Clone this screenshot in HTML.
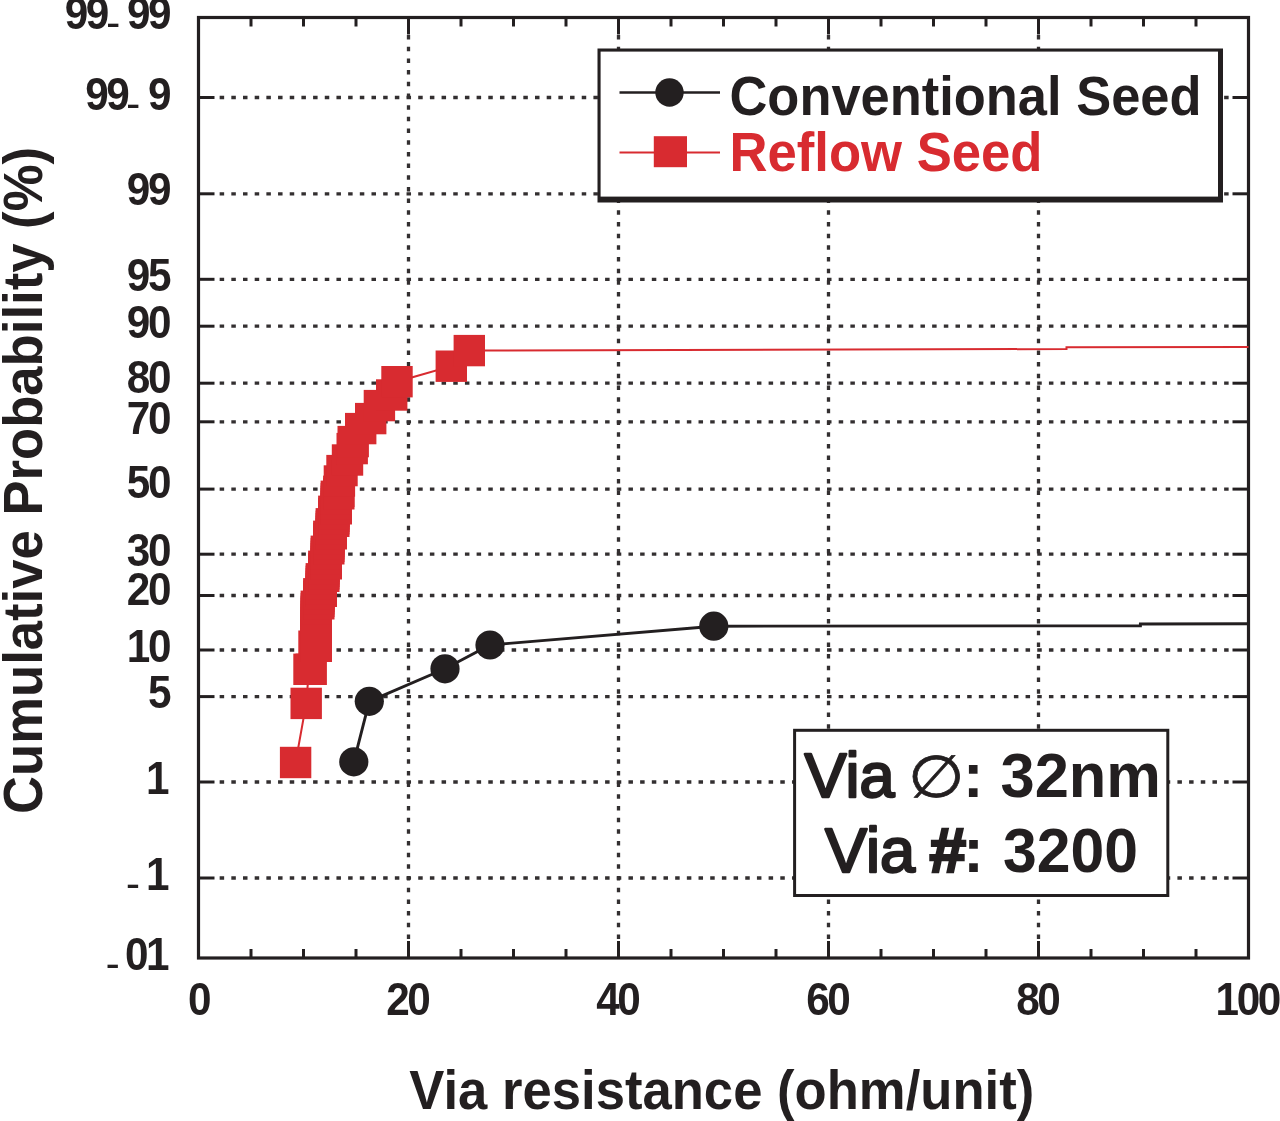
<!DOCTYPE html>
<html lang="en"><head><meta charset="utf-8"><title>Via resistance cumulative probability</title>
<style>html,body{margin:0;padding:0;background:#fff}svg{display:block;filter:blur(0.6px)}text{font-family:"Liberation Sans",Arial,Helvetica,sans-serif;font-weight:bold;fill:#231f20}.tk{font-size:45.5px}.big{font-size:52.4px}</style></head><body>
<svg width="1280" height="1121" viewBox="0 0 1280 1121">
<rect width="1280" height="1121" fill="#fff"/>
<g stroke="#332f30" stroke-width="3.3" fill="none" stroke-dasharray="4.5 7.18">
<line x1="219.65" y1="97.5" x2="1230.5" y2="97.5"/>
<line x1="219.65" y1="193.8" x2="1230.5" y2="193.8"/>
<line x1="219.65" y1="279.3" x2="1230.5" y2="279.3"/>
<line x1="219.65" y1="326.2" x2="1230.5" y2="326.2"/>
<line x1="219.65" y1="383.2" x2="1230.5" y2="383.2"/>
<line x1="219.65" y1="421.8" x2="1230.5" y2="421.8"/>
<line x1="219.65" y1="489.1" x2="1230.5" y2="489.1"/>
<line x1="219.65" y1="554.2" x2="1230.5" y2="554.2"/>
<line x1="219.65" y1="595.5" x2="1230.5" y2="595.5"/>
<line x1="219.65" y1="650.0" x2="1230.5" y2="650.0"/>
<line x1="219.65" y1="696.6" x2="1230.5" y2="696.6"/>
<line x1="219.65" y1="782.0" x2="1230.5" y2="782.0"/>
<line x1="219.65" y1="878.0" x2="1230.5" y2="878.0"/>
<line x1="408.5" y1="35.08" x2="408.5" y2="941.0"/>
<line x1="618.5" y1="35.08" x2="618.5" y2="941.0"/>
<line x1="828.5" y1="35.08" x2="828.5" y2="941.0"/>
<line x1="1038.5" y1="35.08" x2="1038.5" y2="941.0"/>
</g>
<g stroke="#231f20" fill="none">
<rect x="198.5" y="17.5" width="1050.0" height="940.5" stroke-width="3.2"/>
<g stroke-width="3">
<line x1="198.5" y1="97.5" x2="214.5" y2="97.5"/>
<line x1="1232.5" y1="97.5" x2="1248.5" y2="97.5"/>
<line x1="198.5" y1="193.8" x2="214.5" y2="193.8"/>
<line x1="1232.5" y1="193.8" x2="1248.5" y2="193.8"/>
<line x1="198.5" y1="279.3" x2="214.5" y2="279.3"/>
<line x1="1232.5" y1="279.3" x2="1248.5" y2="279.3"/>
<line x1="198.5" y1="326.2" x2="214.5" y2="326.2"/>
<line x1="1232.5" y1="326.2" x2="1248.5" y2="326.2"/>
<line x1="198.5" y1="383.2" x2="214.5" y2="383.2"/>
<line x1="1232.5" y1="383.2" x2="1248.5" y2="383.2"/>
<line x1="198.5" y1="421.8" x2="214.5" y2="421.8"/>
<line x1="1232.5" y1="421.8" x2="1248.5" y2="421.8"/>
<line x1="198.5" y1="489.1" x2="214.5" y2="489.1"/>
<line x1="1232.5" y1="489.1" x2="1248.5" y2="489.1"/>
<line x1="198.5" y1="554.2" x2="214.5" y2="554.2"/>
<line x1="1232.5" y1="554.2" x2="1248.5" y2="554.2"/>
<line x1="198.5" y1="595.5" x2="214.5" y2="595.5"/>
<line x1="1232.5" y1="595.5" x2="1248.5" y2="595.5"/>
<line x1="198.5" y1="650.0" x2="214.5" y2="650.0"/>
<line x1="1232.5" y1="650.0" x2="1248.5" y2="650.0"/>
<line x1="198.5" y1="696.6" x2="214.5" y2="696.6"/>
<line x1="1232.5" y1="696.6" x2="1248.5" y2="696.6"/>
<line x1="198.5" y1="782.0" x2="214.5" y2="782.0"/>
<line x1="1232.5" y1="782.0" x2="1248.5" y2="782.0"/>
<line x1="198.5" y1="878.0" x2="214.5" y2="878.0"/>
<line x1="1232.5" y1="878.0" x2="1248.5" y2="878.0"/>
<line x1="251.0" y1="958.0" x2="251.0" y2="949.0"/>
<line x1="251.0" y1="17.5" x2="251.0" y2="26.5"/>
<line x1="303.5" y1="958.0" x2="303.5" y2="949.0"/>
<line x1="303.5" y1="17.5" x2="303.5" y2="26.5"/>
<line x1="356.0" y1="958.0" x2="356.0" y2="949.0"/>
<line x1="356.0" y1="17.5" x2="356.0" y2="26.5"/>
<line x1="408.5" y1="958.0" x2="408.5" y2="941.0"/>
<line x1="408.5" y1="17.5" x2="408.5" y2="34.5"/>
<line x1="461.0" y1="958.0" x2="461.0" y2="949.0"/>
<line x1="461.0" y1="17.5" x2="461.0" y2="26.5"/>
<line x1="513.5" y1="958.0" x2="513.5" y2="949.0"/>
<line x1="513.5" y1="17.5" x2="513.5" y2="26.5"/>
<line x1="566.0" y1="958.0" x2="566.0" y2="949.0"/>
<line x1="566.0" y1="17.5" x2="566.0" y2="26.5"/>
<line x1="618.5" y1="958.0" x2="618.5" y2="941.0"/>
<line x1="618.5" y1="17.5" x2="618.5" y2="34.5"/>
<line x1="671.0" y1="958.0" x2="671.0" y2="949.0"/>
<line x1="671.0" y1="17.5" x2="671.0" y2="26.5"/>
<line x1="723.5" y1="958.0" x2="723.5" y2="949.0"/>
<line x1="723.5" y1="17.5" x2="723.5" y2="26.5"/>
<line x1="776.0" y1="958.0" x2="776.0" y2="949.0"/>
<line x1="776.0" y1="17.5" x2="776.0" y2="26.5"/>
<line x1="828.5" y1="958.0" x2="828.5" y2="941.0"/>
<line x1="828.5" y1="17.5" x2="828.5" y2="34.5"/>
<line x1="881.0" y1="958.0" x2="881.0" y2="949.0"/>
<line x1="881.0" y1="17.5" x2="881.0" y2="26.5"/>
<line x1="933.5" y1="958.0" x2="933.5" y2="949.0"/>
<line x1="933.5" y1="17.5" x2="933.5" y2="26.5"/>
<line x1="986.0" y1="958.0" x2="986.0" y2="949.0"/>
<line x1="986.0" y1="17.5" x2="986.0" y2="26.5"/>
<line x1="1038.5" y1="958.0" x2="1038.5" y2="941.0"/>
<line x1="1038.5" y1="17.5" x2="1038.5" y2="34.5"/>
<line x1="1091.0" y1="958.0" x2="1091.0" y2="949.0"/>
<line x1="1091.0" y1="17.5" x2="1091.0" y2="26.5"/>
<line x1="1143.5" y1="958.0" x2="1143.5" y2="949.0"/>
<line x1="1143.5" y1="17.5" x2="1143.5" y2="26.5"/>
<line x1="1196.0" y1="958.0" x2="1196.0" y2="949.0"/>
<line x1="1196.0" y1="17.5" x2="1196.0" y2="26.5"/>
</g></g>
<polyline fill="none" stroke="#d82b30" stroke-width="2.0" points="295.6,762.5 306.2,703.4 309.0,669.3 311.2,669.3 314.0,646.2 316.2,646.2 316.3,646.3 316.3,643.3 316.3,640.3 316.3,637.3 316.3,634.3 316.3,631.3 316.3,628.3 316.3,625.3 316.3,622.3 316.3,619.3 316.3,616.3 316.3,613.3 316.3,611.3 316.3,608.8 316.3,606.3 318.8,603.8 318.8,601.3 318.8,598.8 318.8,596.3 318.8,593.8 321.3,591.3 321.3,588.8 321.3,586.3 321.3,583.8 321.3,581.3 321.3,578.8 323.8,576.3 323.8,573.8 323.8,571.3 323.8,568.8 323.8,566.3 326.3,563.8 326.3,561.3 326.3,558.8 326.3,556.3 326.3,553.8 326.3,551.3 328.8,548.8 328.8,546.3 328.8,543.8 328.8,541.3 328.8,538.8 328.8,536.3 331.3,533.8 331.3,531.3 331.3,528.8 331.3,526.3 331.3,523.8 333.8,521.3 333.8,518.8 333.8,516.3 333.8,513.8 333.8,511.3 336.3,508.8 336.3,506.3 336.3,503.8 336.3,501.3 336.3,498.8 336.3,496.3 338.8,493.8 338.8,491.3 339.4,481.0 342.0,470.6 347.5,460.0 352.2,448.6 353.2,441.6 360.7,428.6 370.7,418.6 379.4,405.6 391.7,395.0 397.0,381.7 451.3,366.2 469.3,350.6 1066.5,349.0 1066.5,347.2 1248.5,347.0"/>
<g fill="#d82b30">
<rect x="279.9" y="746.8" width="31.4" height="31.4"/>
<rect x="290.5" y="687.7" width="31.4" height="31.4"/>
<rect x="293.3" y="653.6" width="31.4" height="31.4"/>
<rect x="295.5" y="653.6" width="31.4" height="31.4"/>
<rect x="298.3" y="630.5" width="31.4" height="31.4"/>
<rect x="300.5" y="630.5" width="31.4" height="31.4"/>
<rect x="300.6" y="630.6" width="31.4" height="31.4"/>
<rect x="300.6" y="627.6" width="31.4" height="31.4"/>
<rect x="300.6" y="624.6" width="31.4" height="31.4"/>
<rect x="300.6" y="621.6" width="31.4" height="31.4"/>
<rect x="300.6" y="618.6" width="31.4" height="31.4"/>
<rect x="300.6" y="615.6" width="31.4" height="31.4"/>
<rect x="300.6" y="612.6" width="31.4" height="31.4"/>
<rect x="300.6" y="609.6" width="31.4" height="31.4"/>
<rect x="300.6" y="606.6" width="31.4" height="31.4"/>
<rect x="300.6" y="603.6" width="31.4" height="31.4"/>
<rect x="300.6" y="600.6" width="31.4" height="31.4"/>
<rect x="300.6" y="597.6" width="31.4" height="31.4"/>
<rect x="300.6" y="595.6" width="31.4" height="31.4"/>
<rect x="300.6" y="593.1" width="31.4" height="31.4"/>
<rect x="300.6" y="590.6" width="31.4" height="31.4"/>
<rect x="303.1" y="588.1" width="31.4" height="31.4"/>
<rect x="303.1" y="585.6" width="31.4" height="31.4"/>
<rect x="303.1" y="583.1" width="31.4" height="31.4"/>
<rect x="303.1" y="580.6" width="31.4" height="31.4"/>
<rect x="303.1" y="578.1" width="31.4" height="31.4"/>
<rect x="305.6" y="575.6" width="31.4" height="31.4"/>
<rect x="305.6" y="573.1" width="31.4" height="31.4"/>
<rect x="305.6" y="570.6" width="31.4" height="31.4"/>
<rect x="305.6" y="568.1" width="31.4" height="31.4"/>
<rect x="305.6" y="565.6" width="31.4" height="31.4"/>
<rect x="305.6" y="563.1" width="31.4" height="31.4"/>
<rect x="308.1" y="560.6" width="31.4" height="31.4"/>
<rect x="308.1" y="558.1" width="31.4" height="31.4"/>
<rect x="308.1" y="555.6" width="31.4" height="31.4"/>
<rect x="308.1" y="553.1" width="31.4" height="31.4"/>
<rect x="308.1" y="550.6" width="31.4" height="31.4"/>
<rect x="310.6" y="548.1" width="31.4" height="31.4"/>
<rect x="310.6" y="545.6" width="31.4" height="31.4"/>
<rect x="310.6" y="543.1" width="31.4" height="31.4"/>
<rect x="310.6" y="540.6" width="31.4" height="31.4"/>
<rect x="310.6" y="538.1" width="31.4" height="31.4"/>
<rect x="310.6" y="535.6" width="31.4" height="31.4"/>
<rect x="313.1" y="533.1" width="31.4" height="31.4"/>
<rect x="313.1" y="530.6" width="31.4" height="31.4"/>
<rect x="313.1" y="528.1" width="31.4" height="31.4"/>
<rect x="313.1" y="525.6" width="31.4" height="31.4"/>
<rect x="313.1" y="523.1" width="31.4" height="31.4"/>
<rect x="313.1" y="520.6" width="31.4" height="31.4"/>
<rect x="315.6" y="518.1" width="31.4" height="31.4"/>
<rect x="315.6" y="515.6" width="31.4" height="31.4"/>
<rect x="315.6" y="513.1" width="31.4" height="31.4"/>
<rect x="315.6" y="510.6" width="31.4" height="31.4"/>
<rect x="315.6" y="508.1" width="31.4" height="31.4"/>
<rect x="318.1" y="505.6" width="31.4" height="31.4"/>
<rect x="318.1" y="503.1" width="31.4" height="31.4"/>
<rect x="318.1" y="500.6" width="31.4" height="31.4"/>
<rect x="318.1" y="498.1" width="31.4" height="31.4"/>
<rect x="318.1" y="495.6" width="31.4" height="31.4"/>
<rect x="320.6" y="493.1" width="31.4" height="31.4"/>
<rect x="320.6" y="490.6" width="31.4" height="31.4"/>
<rect x="320.6" y="488.1" width="31.4" height="31.4"/>
<rect x="320.6" y="485.6" width="31.4" height="31.4"/>
<rect x="320.6" y="483.1" width="31.4" height="31.4"/>
<rect x="320.6" y="480.6" width="31.4" height="31.4"/>
<rect x="323.1" y="478.1" width="31.4" height="31.4"/>
<rect x="323.1" y="475.6" width="31.4" height="31.4"/>
<rect x="323.7" y="465.3" width="31.4" height="31.4"/>
<rect x="326.3" y="454.9" width="31.4" height="31.4"/>
<rect x="331.8" y="444.3" width="31.4" height="31.4"/>
<rect x="336.5" y="432.9" width="31.4" height="31.4"/>
<rect x="337.5" y="425.9" width="31.4" height="31.4"/>
<rect x="345.0" y="412.9" width="31.4" height="31.4"/>
<rect x="355.0" y="402.9" width="31.4" height="31.4"/>
<rect x="363.7" y="389.9" width="31.4" height="31.4"/>
<rect x="376.0" y="379.3" width="31.4" height="31.4"/>
<rect x="381.3" y="366.0" width="31.4" height="31.4"/>
<rect x="435.6" y="350.5" width="31.4" height="31.4"/>
<rect x="453.6" y="334.9" width="31.4" height="31.4"/>
</g>
<polyline fill="none" stroke="#231f20" stroke-width="2.9" points="353.8,761.8 369.3,701.3 445.0,668.8 490.0,645.0 713.8,626.2 1140.4,625.8 1140.4,624.0 1248.5,623.8"/>
<g fill="#231f20">
<circle cx="353.8" cy="761.8" r="14.6"/>
<circle cx="369.3" cy="701.3" r="14.6"/>
<circle cx="445.0" cy="668.8" r="14.6"/>
<circle cx="490.0" cy="645.0" r="14.6"/>
<circle cx="713.8" cy="626.2" r="14.6"/>
</g>
<rect x="597.5" y="48.5" width="625.5" height="154" fill="#231f20"/>
<rect x="600.6" y="51.6" width="617.4" height="145" fill="#fff"/>
<line x1="619.5" y1="92.5" x2="720" y2="92.5" stroke="#231f20" stroke-width="2.6"/>
<circle cx="669.5" cy="92.5" r="14.2" fill="#231f20"/>
<line x1="619.5" y1="152.5" x2="720" y2="152.5" stroke="#d82b30" stroke-width="1.9"/>
<rect x="653.8" y="136.2" width="33.2" height="31" fill="#d82b30"/>
<text transform="translate(729.5 115.0) scale(1.000 1.070)" text-anchor="start" style="font-size:52.4px" textLength="472.0" lengthAdjust="spacingAndGlyphs">Conventional Seed</text>
<text transform="translate(729.5 171.0) scale(1.000 1.070)" text-anchor="start" style="font-size:52.4px;fill:#d82b30" textLength="313.0" lengthAdjust="spacingAndGlyphs">Reflow Seed</text>
<rect x="794.6" y="730.3" width="373.2" height="165.2" fill="#fff" stroke="#231f20" stroke-width="3"/>
<text transform="translate(804.5 797.0) scale(1.000 1.030)" text-anchor="start" style="font-size:61.5px;font-weight:normal" textLength="90.0" lengthAdjust="spacingAndGlyphs" stroke="#231f20" stroke-width="2.3" stroke-linejoin="round">Via</text>
<text transform="translate(936.2 797.0) scale(1.000 0.900)" text-anchor="middle" style="font-size:65px;font-family:'DejaVu Sans',sans-serif;font-weight:normal" stroke="#231f20" stroke-width="0.8">∅</text>
<text transform="translate(963.0 797.0) scale(1.000 1.030)" text-anchor="start" style="font-size:61.5px" textLength="198.0" lengthAdjust="spacingAndGlyphs">: 32nm</text>
<text transform="translate(825.0 871.5) scale(1.000 1.030)" text-anchor="start" style="font-size:61.5px;font-weight:normal" textLength="90.0" lengthAdjust="spacingAndGlyphs" stroke="#231f20" stroke-width="2.3" stroke-linejoin="round">Via</text>
<text transform="translate(929.5 871.5) scale(1.000 1.030)" text-anchor="start" style="font-size:61.5px" textLength="36.5" lengthAdjust="spacingAndGlyphs" stroke="#231f20" stroke-width="2.6">#</text>
<text transform="translate(963.2 871.5) scale(1.000 1.030)" text-anchor="start" style="font-size:61.5px">:</text>
<text transform="translate(1003.0 871.5) scale(1.000 1.030)" text-anchor="start" style="font-size:61.5px" textLength="135.0" lengthAdjust="spacingAndGlyphs">3200</text>
<text class="tk" x="169.0" y="205.0" text-anchor="end" letter-spacing="-2.6" transform="translate(169.0 0) scale(0.93 1) translate(-169.0 0)">99</text>
<text class="tk" x="169.0" y="291.5" text-anchor="end" letter-spacing="-2.6" transform="translate(169.0 0) scale(0.93 1) translate(-169.0 0)">95</text>
<text class="tk" x="169.0" y="338.3" text-anchor="end" letter-spacing="-2.6" transform="translate(169.0 0) scale(0.93 1) translate(-169.0 0)">90</text>
<text class="tk" x="169.0" y="392.8" text-anchor="end" letter-spacing="-2.6" transform="translate(169.0 0) scale(0.93 1) translate(-169.0 0)">80</text>
<text class="tk" x="169.0" y="433.9" text-anchor="end" letter-spacing="-2.6" transform="translate(169.0 0) scale(0.93 1) translate(-169.0 0)">70</text>
<text class="tk" x="169.0" y="498.4" text-anchor="end" letter-spacing="-2.6" transform="translate(169.0 0) scale(0.93 1) translate(-169.0 0)">50</text>
<text class="tk" x="169.0" y="566.0" text-anchor="end" letter-spacing="-2.6" transform="translate(169.0 0) scale(0.93 1) translate(-169.0 0)">30</text>
<text class="tk" x="169.0" y="605.4" text-anchor="end" letter-spacing="-2.6" transform="translate(169.0 0) scale(0.93 1) translate(-169.0 0)">20</text>
<text class="tk" x="169.0" y="662.2" text-anchor="end" letter-spacing="-2.6" transform="translate(169.0 0) scale(0.93 1) translate(-169.0 0)">10</text>
<text class="tk" x="169.0" y="708.0" text-anchor="end" letter-spacing="-2.6" transform="translate(169.0 0) scale(0.93 1) translate(-169.0 0)">5</text>
<text class="tk" x="167.0" y="794.3" text-anchor="end" letter-spacing="-2.6" transform="translate(167.0 0) scale(0.93 1) translate(-167.0 0)">1</text>
<text class="tk" x="169.2" y="29.4" text-anchor="end" letter-spacing="-2.6" transform="translate(169.2 0) scale(0.93 1) translate(-169.2 0)">99</text>
<text class="tk" text-anchor="middle" transform="translate(113.3 26.9) scale(1.62 0.5)">.</text>
<text class="tk" x="106.9" y="29.4" text-anchor="end" letter-spacing="-2.6" transform="translate(106.9 0) scale(0.93 1) translate(-106.9 0)">99</text>
<text class="tk" x="169.2" y="110.0" text-anchor="end" letter-spacing="-2.6" transform="translate(169.2 0) scale(0.93 1) translate(-169.2 0)">9</text>
<text class="tk" text-anchor="middle" transform="translate(133.3 107.5) scale(1.62 0.5)">.</text>
<text class="tk" x="127.4" y="110.0" text-anchor="end" letter-spacing="-2.6" transform="translate(127.4 0) scale(0.93 1) translate(-127.4 0)">99</text>
<text class="tk" x="167.2" y="890.0" text-anchor="end" letter-spacing="-2.6" transform="translate(167.2 0) scale(0.93 1) translate(-167.2 0)">1</text>
<text class="tk" text-anchor="middle" transform="translate(133.0 887.5) scale(1.62 0.5)">.</text>
<text class="tk" x="167.2" y="970.0" text-anchor="end" letter-spacing="-2.6" transform="translate(167.2 0) scale(0.93 1) translate(-167.2 0)">01</text>
<text class="tk" text-anchor="middle" transform="translate(112.8 967.5) scale(1.62 0.5)">.</text>
<text class="tk" x="198.5" y="1015.0" text-anchor="middle" letter-spacing="-2.6" transform="translate(198.5 0) scale(0.93 1) translate(-198.5 0)">0</text>
<text class="tk" x="407.3" y="1015.0" text-anchor="middle" letter-spacing="-2.6" transform="translate(407.3 0) scale(0.93 1) translate(-407.3 0)">20</text>
<text class="tk" x="617.3" y="1015.0" text-anchor="middle" letter-spacing="-2.6" transform="translate(617.3 0) scale(0.93 1) translate(-617.3 0)">40</text>
<text class="tk" x="827.3" y="1015.0" text-anchor="middle" letter-spacing="-2.6" transform="translate(827.3 0) scale(0.93 1) translate(-827.3 0)">60</text>
<text class="tk" x="1037.3" y="1015.0" text-anchor="middle" letter-spacing="-2.6" transform="translate(1037.3 0) scale(0.93 1) translate(-1037.3 0)">80</text>
<text class="tk" x="1247.3" y="1015.0" text-anchor="middle" letter-spacing="-2.6" transform="translate(1247.3 0) scale(0.93 1) translate(-1247.3 0)">100</text>
<text transform="translate(409.3 1109.4) scale(1.000 1.060)" text-anchor="start" style="font-size:52.4px" textLength="625.0" lengthAdjust="spacingAndGlyphs">Via resistance (ohm/unit)</text>
<text class="big" transform="translate(41.9 814) rotate(-90) scale(1 1.045)" textLength="667" lengthAdjust="spacingAndGlyphs">Cumulative Probability (%)</text>
</svg></body></html>
